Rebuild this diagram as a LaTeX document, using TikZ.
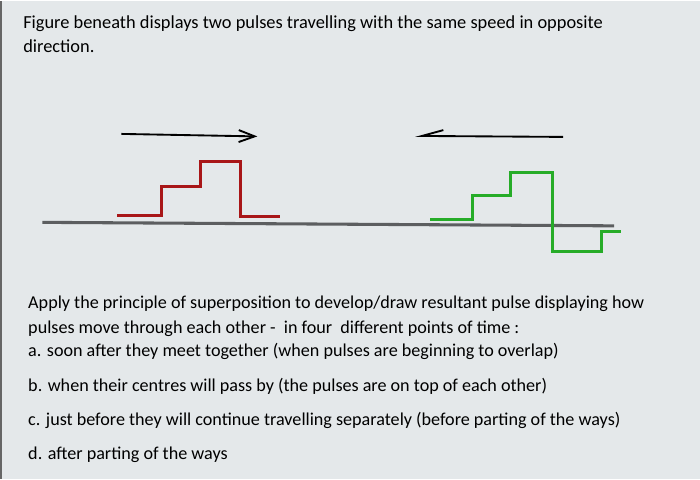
\documentclass[tikz,border=0pt]{standalone}
\usepackage{fontspec}
\setmainfont{Carlito}
\usetikzlibrary{arrows.meta}
\definecolor{paper}{RGB}{228,232,234}
\definecolor{pulsered}{RGB}{168,22,24}
\definecolor{pulsegreen}{RGB}{38,172,40}
\definecolor{axisgray}{RGB}{92,94,96}

\begin{document}
\begin{tikzpicture}[x=0.75pt,y=-0.75pt,
        txt/.style={anchor=base west,inner sep=0pt,font=\fontsize{13.6}{16}\selectfont},
        pulse/.style={line width=2.3pt,line join=miter},
        move/.style={line width=1.4pt}]
        \fill[paper] (0,0) rectangle (700,478);
        \draw[black!60,line width=1.5pt] (0.5,0) -- (0.5,478);
        \useasboundingbox (0,0) rectangle (700,478);

        \node (t1) [txt,font=\fontsize{13.8}{16}\selectfont] at (22.5,28) {Figure beneath displays two pulses travelling with the same speed in opposite};
        \node (t2) [txt,font=\fontsize{13.8}{16}\selectfont] at (22.5,52) {direction.};

        % direction arrows
        \coordinate (r0) at (121,133);
        \coordinate (r1) at (257,135.5);
        \coordinate (l0) at (563,136);
        \coordinate (l1) at (415,135);
        \draw[move,-{Straight Barb[length=12pt,width=9pt]}] (r0) -- (r1);
        \draw[move,-{Straight Barb[harpoon,swap,length=16pt,width=9pt]}] (l0) -- (l1);

        % string
        \coordinate (s0) at (42,221.5);
        \coordinate (s1) at (614,225);
        \draw[axisgray,line width=2.3pt] (s0) -- (s1);

        % pulses
        \draw[pulse,pulsered] (117,215) -- (161,215) -- (161,186) -- (200,186) -- (200,161)
                -- (240,161) -- (240,216) -- (280,216);
        \draw[pulse,pulsegreen] (430,219) -- (472,219) -- (472,195) -- (510,195) -- (510,172)
                -- (552,172) -- (552,251) -- (601,251) -- (601,231) -- (621,231);

        \node (q0) [txt] at (27.5,308) {Apply the principle of superposition to develop/draw resultant pulse displaying how};
        \node (q1) [txt] at (27.5,333) {pulses move through each other -\ \ in four\ \ different points of time :};
        \node (qa) [txt] at (27.5,356) {a. soon after they meet together (when pulses are beginning to overlap)};
        \node (qb) [txt] at (27.5,391) {b. when their centres will pass by (the pulses are on top of each other)};
        \node (qc) [txt] at (27.5,425) {c. just before they will continue travelling separately (before parting of the ways)};
        \node (qd) [txt] at (27.5,459) {d. after parting of the ways};
\end{tikzpicture}
\end{document}
